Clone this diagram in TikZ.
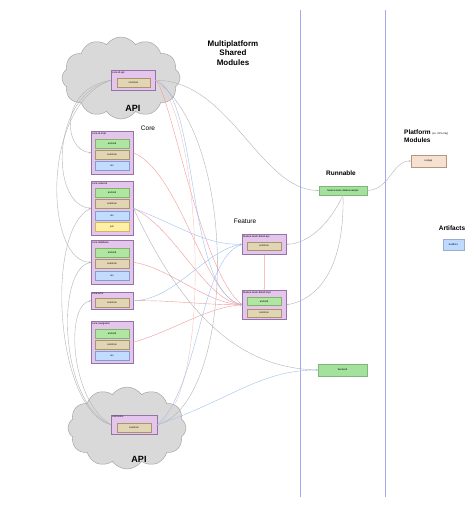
\documentclass[tikz,border=0pt]{standalone}
\usepackage{fontspec}
\setmainfont{Liberation Sans}
\usetikzlibrary{shapes.symbols,arrows.meta}

\definecolor{modfill}{HTML}{E4C5EB}
\definecolor{moddraw}{HTML}{9673A6}
\definecolor{comfill}{HTML}{E1D5B4}
\definecolor{comdraw}{HTML}{A8966A}
\definecolor{andfill}{HTML}{AEE6A2}
\definecolor{anddraw}{HTML}{82B366}
\definecolor{iosfill}{HTML}{C2DCFF}
\definecolor{iosdraw}{HTML}{7F9FCF}
\definecolor{jvmfill}{HTML}{FFF0A8}
\definecolor{jvmdraw}{HTML}{D6B656}
\definecolor{runfill}{HTML}{A3E29C}
\definecolor{platfill}{HTML}{F6E0D0}
\definecolor{platdraw}{HTML}{B7957F}
\definecolor{artfill}{HTML}{BFDAFF}
\definecolor{lanecol}{HTML}{A8A8F2}
\definecolor{cloudfill}{HTML}{D9D9D9}
\definecolor{linkgray}{HTML}{B4B4B4}
\definecolor{linkred}{HTML}{F49A9A}
\definecolor{linkblue}{HTML}{9DC2F2}

\tikzset{
  module/.style={draw=moddraw, fill=modfill, line width=0.5pt, anchor=north west, inner sep=0pt},
  modtitle/.style={anchor=north west, inner sep=1pt, font=\fontsize{2.6}{3}\selectfont},
  subbox/.style={line width=0.4pt, minimum width=34pt, minimum height=9pt, inner sep=0pt, font=\fontsize{2.5}{3}\selectfont},
  android/.style={subbox, fill=andfill, draw=anddraw},
  common/.style={subbox, fill=comfill, draw=comdraw},
  ios/.style={subbox, fill=iosfill, draw=iosdraw},
  jvm/.style={subbox, fill=jvmfill, draw=jvmdraw},
  apicloud/.style={cloud, cloud puffs=12, cloud puff arc=110, aspect=1.5, draw=gray!70, fill=cloudfill, line width=0.5pt, minimum width=118pt, minimum height=82pt, inner sep=0pt},
  heading/.style={font=\bfseries\fontsize{6.5}{7.5}\selectfont, inner sep=0pt},
  group/.style={font=\fontsize{6.5}{7.5}\selectfont, inner sep=0pt},
  laneline/.style={draw=lanecol, line width=0.9pt},
  link/.style={draw=linkgray, line width=0.4pt, -{Stealth[length=2pt,width=1.6pt]}},
  redlink/.style={link, draw=linkred},
  bluelink/.style={link, draw=linkblue},
}

\begin{document}
\begin{tikzpicture}[x=1pt,y=-1pt]
		%%%%% START %%%%%
		\useasboundingbox[fill=white] (0,0) rectangle (474,507);
		
		\draw[laneline] (300,10) -- (300,497);
		\draw[laneline] (385,10) -- (385,497);
		
		\node[heading, font=\bfseries\fontsize{8}{9.5}\selectfont, align=center] (title) at (233,53) {Multiplatform\\Shared\\Modules};
		
		% api clouds
		\node[apicloud] (topcloud) at (121,78) {};
		\node[heading, font=\bfseries\fontsize{9}{10}\selectfont] (topapi) at (133,108) {API};
		\node[apicloud] (botcloud) at (127,428) {};
		\node[heading, font=\bfseries\fontsize{9}{10}\selectfont] (botapi) at (139,459) {API};
		
		\node[module, minimum width=44pt, minimum height=20pt] (diapi) at (111,70) {};
		\node[modtitle] (diapi-t) at (diapi.north west) {core-di-api};
		\node[common, minimum width=33pt] (diapi-c) at (133.5,82.5) {common};
		
		\node[group] (core) at (148,128) {Core};
		
		\node[module, minimum width=42pt, minimum height=43pt] (diimpl) at (91,131) {};
		\node[modtitle] (diimpl-t) at (diimpl.north west) {core-di-impl};
		\node[android] (diimpl-a) at (112,143.5) {android};
		\node[common] (diimpl-c) at (112,155) {common};
		\node[ios] (diimpl-i) at (112,166) {ios};
		
		\node[module, minimum width=42pt, minimum height=54pt] (network) at (91,181) {};
		\node[modtitle] (network-t) at (network.north west) {core-network};
		\node[android] (network-a) at (112,192.5) {android};
		\node[common] (network-c) at (112,203.5) {common};
		\node[ios] (network-i) at (112,215.5) {ios};
		\node[jvm] (network-j) at (112,226.5) {jvm};
		
		\node[module, minimum width=42pt, minimum height=44pt] (database) at (91,240) {};
		\node[modtitle] (database-t) at (database.north west) {core-database};
		\node[android] (database-a) at (112,253) {android};
		\node[common] (database-c) at (112,264) {common};
		\node[ios] (database-i) at (112,275.5) {ios};
		
		\node[module, minimum width=42pt, minimum height=17pt] (error) at (91,292) {};
		\node[modtitle] (error-t) at (error.north west) {core-error};
		\node[common] (error-c) at (112,303) {common};
		
		\node[module, minimum width=42pt, minimum height=42pt] (navigation) at (91,321) {};
		\node[modtitle] (navigation-t) at (navigation.north west) {core-navigation};
		\node[android] (navigation-a) at (112,333.5) {android};
		\node[common] (navigation-c) at (112,345) {common};
		\node[ios] (navigation-i) at (112,356) {ios};
		
		\node[module, minimum width=46pt, minimum height=19pt] (commons) at (111,415) {};
		\node[modtitle] (commons-t) at (commons.north west) {commons};
		\node[common] (commons-c) at (134,428) {common};
		
		% feature
		\node[group] (feature) at (245,221) {Feature};
		
		\node[module, minimum width=44pt, minimum height=20pt] (featapi) at (242,234) {};
		\node[modtitle] (featapi-t) at (featapi.north west) {feature-team-detail-api};
		\node[common, minimum height=8pt] (featapi-c) at (264,246) {common};
		
		\node[module, minimum width=44pt, minimum height=29pt] (featimpl) at (242,290) {};
		\node[modtitle] (featimpl-t) at (featimpl.north west) {feature-team-detail-impl};
		\node[android, minimum height=8pt] (featimpl-a) at (264,301.5) {android};
		\node[common, minimum height=8pt] (featimpl-c) at (264,313) {common};
		
		% runnable
		\node[heading] (runnable) at (341,173) {Runnable};
		\node[subbox, fill=runfill, draw=runfill!80!black, minimum width=48pt] (example) at (343,190.5) {feature-team-detail-example};
		\node[subbox, fill=runfill, draw=runfill!80!black, minimum width=49pt, minimum height=12pt] (backend) at (342.5,370) {backend};
		
		% platform
		\node[heading, anchor=north west, align=left] (platform) at (404,130) {Platform {\mdseries\fontsize{2.6}{3}\selectfont (ex: iOS only)}\\Modules};
		\node[subbox, fill=platfill, draw=platdraw, minimum width=35pt, minimum height=12pt] (iosapp) at (428.5,161) {iosApp};
		
		\node[heading] (artifacts) at (452,228) {Artifacts};
		\node[subbox, fill=artfill, draw=artfill!80!black, minimum width=21pt, minimum height=11pt] (buildsrc) at (453.5,244.5) {buildSrc};
		
		% links
		\draw[link] (diapi.west) .. controls (60,88) and (62,150) .. (diimpl.west);
		\draw[link] (diapi.west) .. controls (50,95) and (50,205) .. (network.west);
		\draw[link] (diapi.west) .. controls (40,105) and (45,262) .. (database.west);
		\draw[link] (commons.west) .. controls (55,410) and (45,230) .. (network.west);
		\draw[link] (commons.west) .. controls (60,405) and (55,270) .. (database.west);
		\draw[link] (commons.west) .. controls (70,400) and (65,305) .. (error.west);
		\draw[link] (diapi.east) .. controls (230,80) and (260,190) .. (example.west);
		\draw[link] (diapi.east) .. controls (240,140) and (235,400) .. (commons.east);
		\draw[link] (network.east) .. controls (190,330) and (250,368) .. (backend.west);
		\draw[link] (example.south) .. controls (324,235) and (300,244) .. (featapi.east);
		\draw[link] (example.south) .. controls (345,285) and (305,302) .. (featimpl.east);
		\draw[link] (example.east) .. controls (390,190) and (392,161) .. (iosapp.west);
		
		\draw[redlink] (diimpl.east) .. controls (180,172) and (205,298) .. (featimpl.west);
		\draw[redlink] (network.east) .. controls (175,228) and (205,300) .. (featimpl.west);
		\draw[redlink] (database.east) .. controls (170,268) and (205,303) .. (featimpl.west);
		\draw[redlink] (error.east) .. controls (170,300) and (205,305) .. (featimpl.west);
		\draw[redlink] (navigation.east) .. controls (175,330) and (205,308) .. (featimpl.west);
		\draw[redlink] (diapi.east) .. controls (170,90) and (200,270) .. (featimpl.west);
		\draw[redlink, draw=linkred!60] (featapi.south) -- (featimpl.north);
		\draw[redlink, draw=linkred!60] (diapi.east) .. controls (200,110) and (215,390) .. (commons.east);
		
		\draw[bluelink] (network.east) .. controls (180,226) and (205,245) .. (featapi.west);
		\draw[bluelink] (error.east) .. controls (175,300) and (205,250) .. (featapi.west);
		\draw[bluelink] (commons.east) .. controls (200,385) and (200,260) .. (featapi.west);
		\draw[bluelink] (diapi.east) .. controls (200,95) and (185,290) .. (featimpl.west);
		\draw[bluelink] (commons.east) .. controls (230,400) and (260,370) .. (backend.west);
		
		%%%%% END %%%%%
	\end{tikzpicture}
\end{document}
